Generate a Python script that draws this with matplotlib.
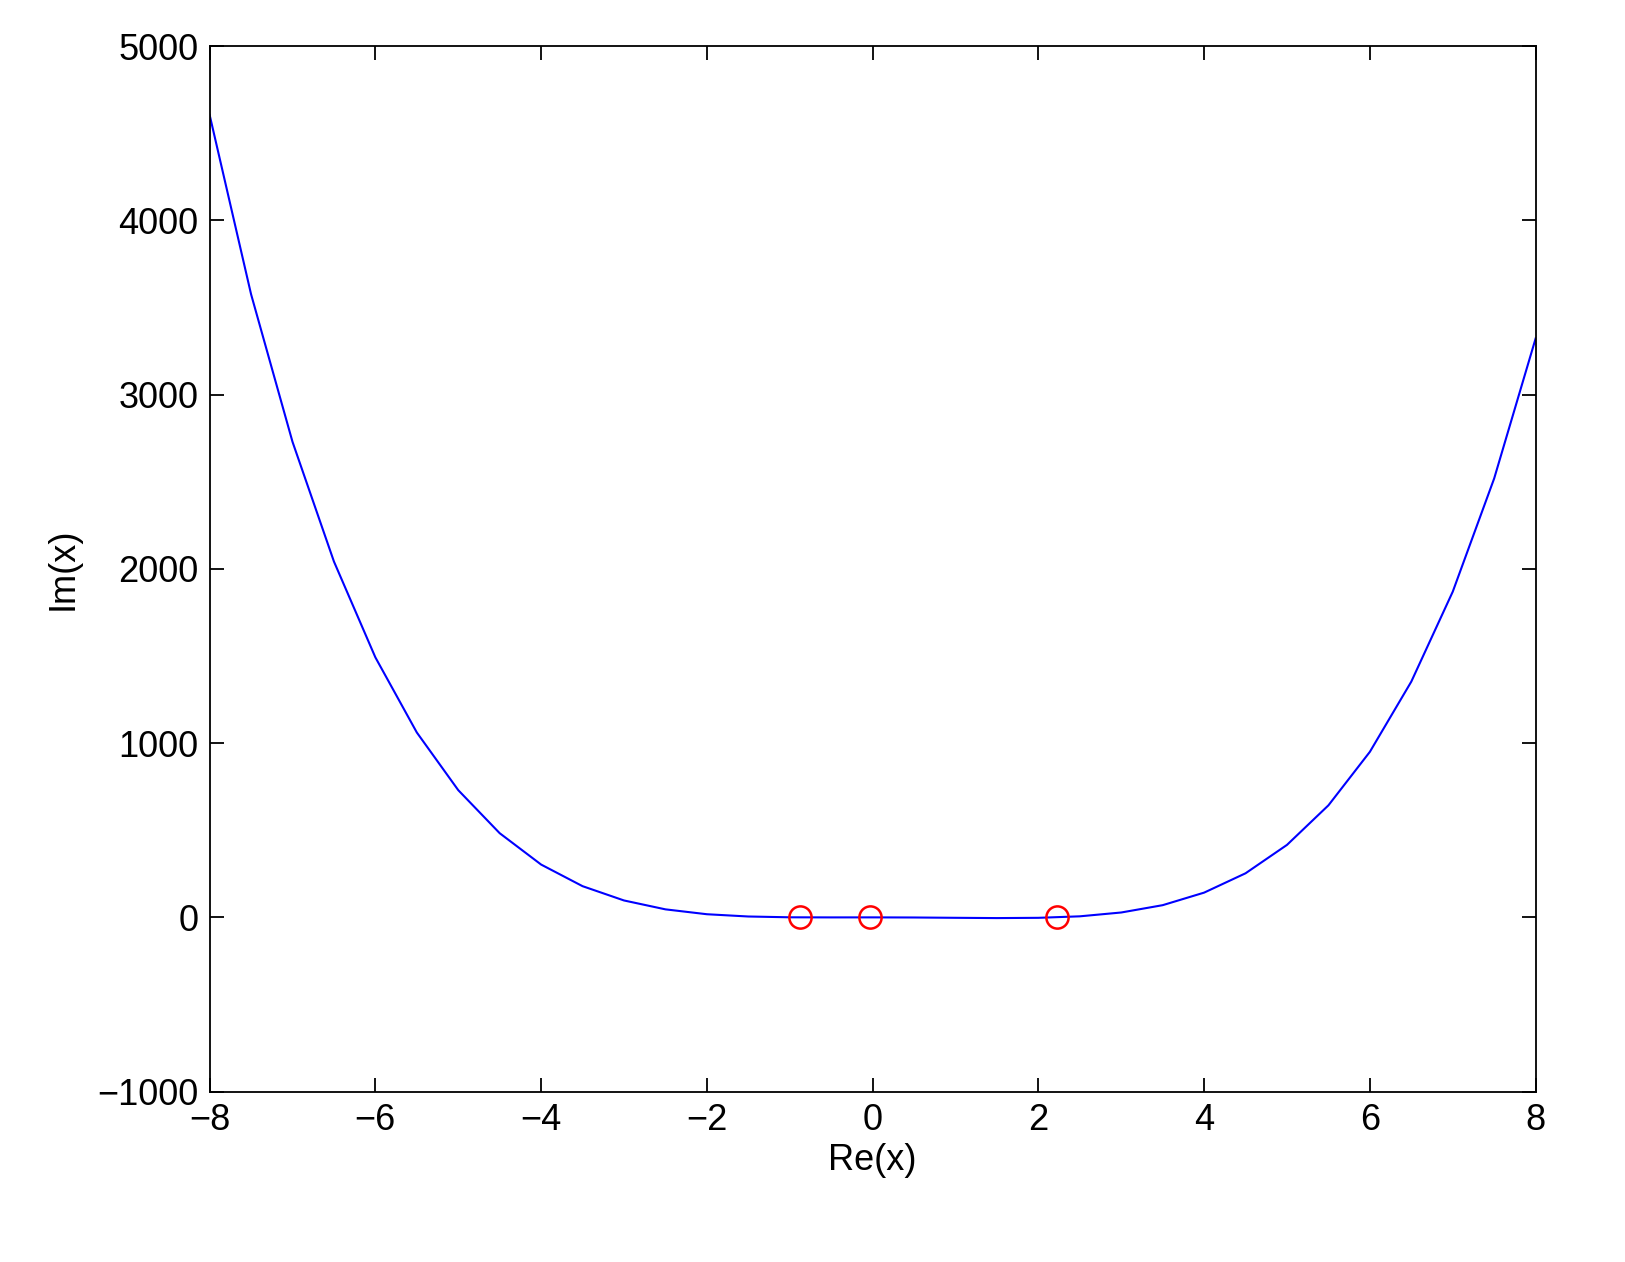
import matplotlib
matplotlib.use("Agg")
import matplotlib.pyplot as plt

# curve values
x_vals = [-8, -7.5, -7, -6.5, -6, -5.5, -5, -4.5, -4, -3.5, -3, -2.5, -2, -1.5, -1,
          -0.5, 0, 0.5, 1, 1.5, 2, 2.5, 3, 3.5, 4, 4.5, 5, 5.5, 6, 6.5, 7, 7.5, 8]
y_vals = [4605, 3576, 2729, 2042, 1492, 1061, 730, 483, 303, 179, 97, 46, 18, 5, 0.4,
          -0.2, 0, -0.7, -2.5, -4.1, -2.6, 6, 28, 70, 142, 253, 416, 643, 950, 1353, 1869, 2519, 3322]

# roots
root_x = [-0.88, -0.03, 2.22]
root_y = [0, 0, 0]

plt.rcParams['font.family'] = ['Liberation Sans', 'DejaVu Sans']
fig = plt.figure(figsize=(16.25, 12.62), dpi=100)
ax = fig.add_axes([0.129, 0.135, 0.816, 0.8285])
ax.plot(x_vals, y_vals, color="blue", linewidth=1.5)
ax.plot(root_x, root_y, "o", markerfacecolor="none", markeredgecolor="red",
        markersize=16, markeredgewidth=1.8)
ax.set_xlim(-8, 8)
ax.set_ylim(-1000, 5000)
ax.set_xticks(range(-8, 9, 2))
ax.set_yticks(range(-1000, 5001, 1000))
ax.tick_params(direction="in", top=True, right=True, labelsize=26, length=10, width=1.3, pad=8)
for s in ax.spines.values():
    s.set_linewidth(1.3)
ax.set_xlabel("Re(x)", fontsize=26, labelpad=4)
ax.set_ylabel("Im(x)", fontsize=26, labelpad=12)
fig.savefig("out.png", dpi=100)
